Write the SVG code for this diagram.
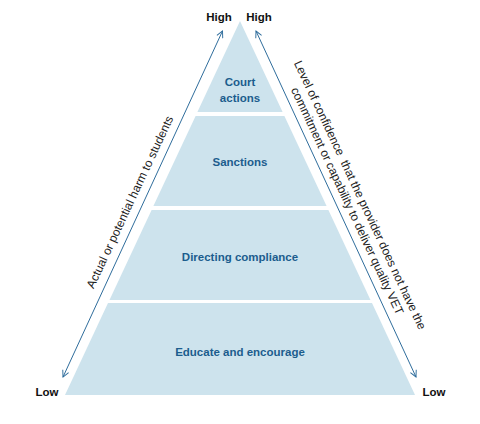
<svg xmlns="http://www.w3.org/2000/svg" width="480" height="424" viewBox="0 0 480 424">
  <defs>
    <marker id="arr" viewBox="0 0 10 10" refX="9" refY="5" markerWidth="8" markerHeight="8" markerUnits="userSpaceOnUse" orient="auto-start-reverse">
      <path d="M1,1 L9,5 L1,9" fill="none" stroke="#2f6d9c" stroke-width="1.2"/>
    </marker>
  </defs>
  <style>
    .band { fill: #cde3ed; }
    .lbl { font-family: "Liberation Sans", Arial, sans-serif; font-size: 11.5px; font-weight: bold; fill: #1c5d8d; text-anchor: middle; }
    .end { font-family: "Liberation Sans", Arial, sans-serif; font-size: 11.5px; font-weight: bold; fill: #111; text-anchor: middle; }
    .axis { font-family: "Liberation Sans", Arial, sans-serif; font-size: 12px; fill: #222; text-anchor: middle; }
    .conn { stroke: #2f6d9c; stroke-width: 1; fill: none; marker-start: url(#arr); marker-end: url(#arr); }
  </style>
  <rect width="480" height="424" fill="#fff"/>

  <g id="court-actions">
    <polygon class="band" points="240,21 282.6,112 197.4,112"/>
    <text class="lbl" x="240" y="86">Court</text>
    <text class="lbl" x="240" y="102">actions</text>
  </g>
  <g id="sanctions">
    <polygon class="band" points="195.6,116 284.4,116 326.6,206 153.4,206"/>
    <text class="lbl" x="240" y="166">Sanctions</text>
  </g>
  <g id="directing-compliance">
    <polygon class="band" points="151.6,210 328.4,210 370.5,300 109.5,300"/>
    <text class="lbl" x="240" y="261">Directing compliance</text>
  </g>
  <g id="educate-encourage">
    <polygon class="band" points="108,303 372,303 415,395 65,395"/>
    <text class="lbl" x="240" y="356">Educate and encourage</text>
  </g>

  <g id="connectors">
    <line class="conn" x1="222.5" y1="31" x2="63" y2="377"/>
    <line class="conn" x1="256" y1="31" x2="416" y2="377"/>
  </g>

  <g id="labels">
    <text class="end" x="219" y="21">High</text>
    <text class="end" x="259" y="21">High</text>
    <text class="end" x="47" y="396">Low</text>
    <text class="end" x="434" y="396">Low</text>
    <g transform="translate(130,202) rotate(-64.9)">
      <text class="axis" x="0" y="4">Actual or potential harm to students</text>
    </g>
    <g transform="translate(360,195) rotate(64.9)">
      <text class="axis" x="0" y="4" xml:space="preserve">Level of confidence  that the provider does not have the</text>
      <text class="axis" x="0" y="18">commitment or capability to deliver quality VET</text>
    </g>
  </g>
</svg>
